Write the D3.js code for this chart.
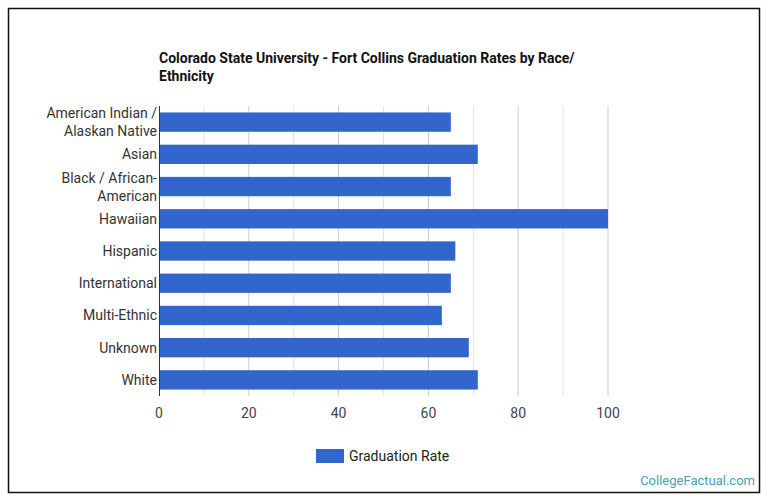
<!DOCTYPE html>
<html>
<head>
<meta charset="utf-8">
<script src="https://cdn.jsdelivr.net/npm/d3@7"></script>
<style>
  body { margin: 0; background: #fff; }
  svg text { font-family: Roboto, "Noto Sans", sans-serif; }
</style>
</head>
<body>
<div id="chart"></div>
<script>
const categories = [
  ["American Indian /", "Alaskan Native"],
  ["Asian"],
  ["Black / African-", "American"],
  ["Hawaiian"],
  ["Hispanic"],
  ["International"],
  ["Multi-Ethnic"],
  ["Unknown"],
  ["White"]
];
const gradRates = [65, 71, 65, 100, 66, 65, 63, 69, 71];
const xTicks = [0, 20, 40, 60, 80, 100];
const minorTicks = [10, 30, 50, 70, 90];
const seriesName = "Graduation Rate";

const W = 770, H = 503;
const margin = {top: 106, left: 159, right: 162, bottom: 107};
const width = W - margin.left - margin.right;
const height = H - margin.top - margin.bottom;

const svg = d3.select("#chart").append("svg")
  .attr("width", W)
  .attr("height", H);

// outer frame
svg.append("rect")
  .attr("x", 8.5).attr("y", 8.5)
  .attr("width", 751).attr("height", 484)
  .attr("fill", "#fff")
  .attr("stroke", "#111")
  .attr("stroke-width", 1.5);

// title
const title = svg.append("text")
  .attr("x", 159).attr("y", 63)
  .attr("font-size", 14).attr("font-weight", "bold")
  .attr("fill", "#111");
title.append("tspan").attr("x", 159).text("Colorado State University - Fort Collins Graduation Rates by Race/");
title.append("tspan").attr("x", 159).attr("dy", 18).text("Ethnicity");

const labels = categories.map(d => d.join(" "));

const x = d3.scaleLinear().domain([0, 100]).range([0, width]);
const y = d3.scaleBand().domain(labels).range([0, height]).paddingInner(0.4).paddingOuter(0.2);

const g = svg.append("g").attr("transform", `translate(${margin.left},${margin.top})`);

// gridlines
g.selectAll(".minor")
  .data(minorTicks)
  .join("line")
  .attr("x1", d => x(d)).attr("x2", d => x(d))
  .attr("y1", 0).attr("y2", height)
  .attr("stroke", "#e3e3e3");
g.selectAll(".major")
  .data(xTicks.filter(d => d > 0))
  .join("line")
  .attr("x1", d => x(d)).attr("x2", d => x(d))
  .attr("y1", 0).attr("y2", height)
  .attr("stroke", "#cccccc");

// bars
g.selectAll("rect.bar")
  .data(gradRates)
  .join("rect")
  .attr("class", "bar")
  .attr("x", 0)
  .attr("y", (d, i) => y(labels[i]))
  .attr("width", d => x(d))
  .attr("height", y.bandwidth())
  .attr("fill", "#3366cc");

// y axis line
g.append("line")
  .attr("x1", 0.5).attr("x2", 0.5)
  .attr("y1", 0).attr("y2", height)
  .attr("stroke", "#333").attr("stroke-width", 1);

// category labels
categories.forEach((lines, i) => {
  const cy = y(labels[i]) + y.bandwidth() / 2;
  const t = g.append("text")
    .attr("text-anchor", "end")
    .attr("font-size", 14)
    .attr("fill", "#333");
  const start = cy + 5 - (lines.length - 1) * 9;
  lines.forEach((ln, j) => {
    t.append("tspan").attr("x", -2).attr("y", start + j * 18).text(ln);
  });
});

// x tick labels
g.selectAll(".xt")
  .data(xTicks)
  .join("text")
  .attr("x", d => x(d))
  .attr("y", height + 22)
  .attr("text-anchor", "middle")
  .attr("font-size", 14)
  .attr("fill", "#444")
  .text(d => d);

// legend
svg.append("rect")
  .attr("x", 316).attr("y", 449)
  .attr("width", 28).attr("height", 14)
  .attr("fill", "#3366cc");
svg.append("text")
  .attr("x", 349).attr("y", 461)
  .attr("font-size", 14)
  .attr("fill", "#222")
  .text(seriesName);

// source
svg.append("text")
  .attr("x", 755).attr("y", 485)
  .attr("text-anchor", "end")
  .attr("font-size", 13)
  .attr("fill", "#4aa0b5")
  .text("CollegeFactual.com");
</script>
</body>
</html>
